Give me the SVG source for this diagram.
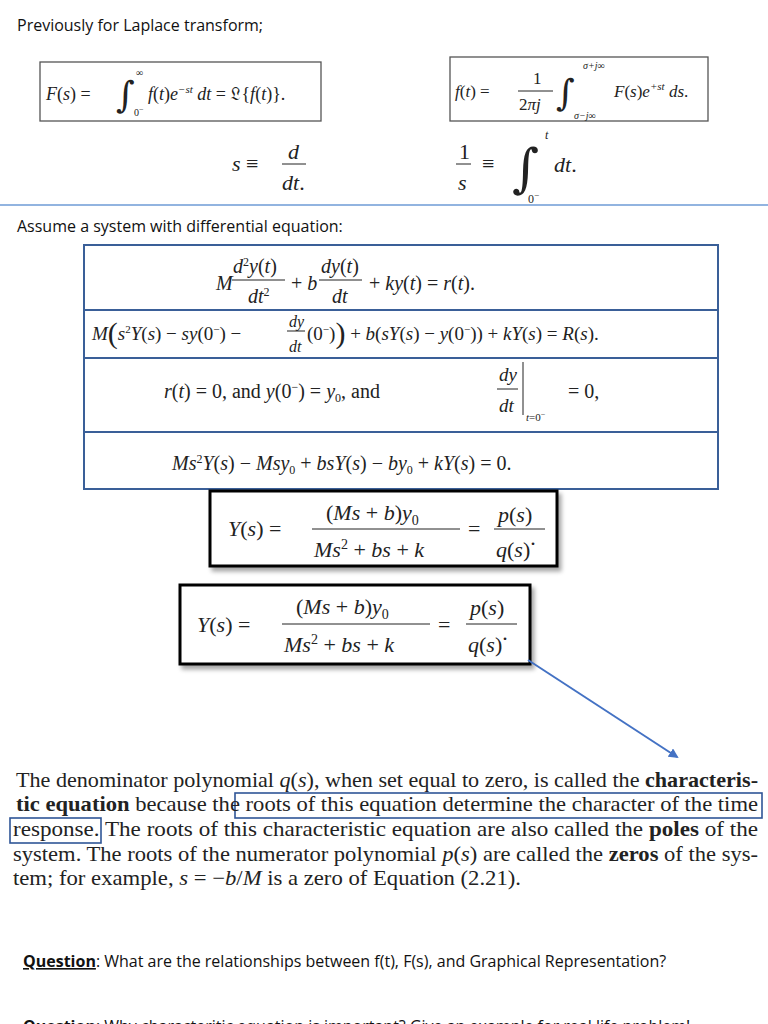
<svg xmlns="http://www.w3.org/2000/svg" width="768" height="1024" viewBox="0 0 768 1024" xml:space="preserve">
<style>
.it{font-family:"Liberation Serif","DejaVu Serif",serif;font-style:italic;fill:#222}
.r{font-family:"Liberation Serif","DejaVu Serif",serif;font-style:normal;fill:#222}
.i{font-family:"DejaVu Serif",serif;font-style:normal;fill:#222}
.c{font-family:"Open Sans","Liberation Sans",sans-serif;fill:#111}
.p{font-family:"Liberation Serif",serif;font-size:21px;fill:#222}
.bx{fill:none;stroke:#555;stroke-width:1.3}
.tb{fill:none;stroke:#3a5f98;stroke-width:2}
.bk{fill:#fff;stroke:#000;stroke-width:3}
.hl{fill:none;stroke:#2f5597;stroke-width:1.6}
.fl{stroke:#222;stroke-width:1}
</style>
<defs>
<filter id="sh" x="-5%" y="-5%" width="115%" height="125%"><feDropShadow dx="3" dy="4" stdDeviation="2" flood-color="#000" flood-opacity="0.35"/></filter>
<marker id="ah" markerWidth="10" markerHeight="10" refX="8" refY="5" orient="auto" markerUnits="userSpaceOnUse"><path d="M0,0 L10,5 L0,10 z" fill="#4472c4"/></marker>
</defs>
<rect width="768" height="1024" fill="#fff"/>
<text class="c" x="17" y="31" font-size="16">Previously for Laplace transform;</text>

<g id="laplace">
<rect class="bx" x="40" y="62" width="281" height="59"/>
<text class="r" x="46" y="100" font-size="18"><tspan class="it">F</tspan>(<tspan class="it">s</tspan>)  =</text>
<text class="i" x="116" y="107" font-size="36">∫</text>
<text class="r" x="136" y="76" font-size="10">∞</text>
<text class="r" x="134" y="116" font-size="10">0<tspan dy="-4" font-size="8">−</tspan></text>
<text class="r" x="148" y="100" font-size="18"><tspan class="it">f</tspan>(<tspan class="it">t</tspan>)<tspan class="it">e</tspan><tspan class="it" dy="-7" font-size="11">−st</tspan><tspan class="it" dy="7"> dt</tspan>  =  𝔏{<tspan class="it">f</tspan>(<tspan class="it">t</tspan>)}.</text>
</g>

<g id="inverse">
<rect class="bx" x="450" y="57" width="258" height="64"/>
<text class="r" x="455" y="97" font-size="17"><tspan class="it">f</tspan>(<tspan class="it">t</tspan>)  =</text>
<text class="r" x="533" y="84" font-size="17">1</text>
<line class="fl" x1="518" y1="91" x2="553" y2="91"/>
<text class="r" x="519" y="110" font-size="17">2<tspan class="it">πj</tspan></text>
<text class="i" x="556" y="105" font-size="36">∫</text>
<text class="it" x="583" y="69" font-size="10">σ+j∞</text>
<text class="it" x="574" y="119" font-size="10">σ−j∞</text>
<text class="r" x="614" y="97" font-size="17"><tspan class="it">F</tspan>(<tspan class="it">s</tspan>)<tspan class="it">e</tspan><tspan class="it" dy="-7" font-size="11">+st</tspan><tspan class="it" dy="7"> ds</tspan>.</text>
</g>

<g id="s-def">
<text class="r" x="232" y="171" font-size="22"><tspan class="it">s</tspan>  ≡</text>
<text class="it" x="288" y="159" font-size="22">d</text>
<line class="fl" x1="282" y1="164" x2="306" y2="164"/>
<text class="r" x="282" y="190" font-size="22"><tspan class="it">dt</tspan>.</text>
</g>
<g id="inv-s-def">
<text class="r" x="459" y="159" font-size="22">1</text>
<line class="fl" x1="456" y1="164" x2="471" y2="164"/>
<text class="it" x="458" y="190" font-size="22">s</text>
<text class="r" x="482" y="171" font-size="22">≡</text>
<text class="i" x="512" y="186" font-size="52">∫</text>
<text class="it" x="545" y="139" font-size="12">t</text>
<text class="r" x="528" y="203" font-size="12">0<tspan dy="-5" font-size="9">−</tspan></text>
<text class="r" x="554" y="172" font-size="22"><tspan class="it">dt</tspan>.</text>
</g>

<line x1="0" y1="205" x2="768" y2="205" stroke="#6e9bd6" stroke-width="1.5"/>
<text class="c" x="17" y="232" font-size="16">Assume a system with differential equation:</text>

<g id="equations-table">
<rect class="tb" x="84" y="245" width="634" height="244"/>
<line class="tb" x1="84" y1="310" x2="718" y2="310"/>
<line class="tb" x1="84" y1="358" x2="718" y2="358"/>
<line class="tb" x1="84" y1="432" x2="718" y2="432"/>
<text class="it" x="216" y="290" font-size="20">M</text>
<text class="r" x="233" y="273" font-size="20"><tspan class="it">d</tspan><tspan dy="-7" font-size="12">2</tspan><tspan class="it" dy="7">y</tspan>(<tspan class="it">t</tspan>)</text>
<line class="fl" x1="232" y1="280" x2="285" y2="280"/>
<text class="r" x="248" y="303" font-size="20"><tspan class="it">dt</tspan><tspan dy="-7" font-size="12">2</tspan></text>
<text class="r" x="291" y="290" font-size="20">+ <tspan class="it">b</tspan></text>
<text class="r" x="321" y="273" font-size="20"><tspan class="it">dy</tspan>(<tspan class="it">t</tspan>)</text>
<line class="fl" x1="319" y1="280" x2="362" y2="280"/>
<text class="it" x="332" y="303" font-size="20">dt</text>
<text class="r" x="369" y="290" font-size="20">+  <tspan class="it">ky</tspan>(<tspan class="it">t</tspan>)   =   <tspan class="it">r</tspan>(<tspan class="it">t</tspan>).</text>

<text class="r" x="92" y="340" font-size="19"><tspan class="it">M</tspan><tspan font-size="30" dy="3">(</tspan><tspan class="it" dy="-3">s</tspan><tspan dy="-7" font-size="11">2</tspan><tspan class="it" dy="7">Y</tspan>(<tspan class="it">s</tspan>)  −  <tspan class="it">sy</tspan>(0<tspan dy="-7" font-size="11">−</tspan><tspan dy="7">)  −</tspan></text>
<text class="it" x="289" y="327" font-size="16">dy</text>
<line class="fl" x1="287" y1="331" x2="305" y2="331"/>
<text class="it" x="289" y="352" font-size="16">dt</text>
<text class="r" x="307" y="340" font-size="19">(0<tspan dy="-7" font-size="11">−</tspan><tspan dy="7">)</tspan><tspan font-size="30" dy="3">)</tspan><tspan dy="-3">  +  </tspan><tspan class="it">b</tspan>(<tspan class="it">sY</tspan>(<tspan class="it">s</tspan>)  −  <tspan class="it">y</tspan>(0<tspan dy="-7" font-size="11">−</tspan><tspan dy="7">))  +  </tspan><tspan class="it">kY</tspan>(<tspan class="it">s</tspan>)  =  <tspan class="it">R</tspan>(<tspan class="it">s</tspan>).</text>

<text class="r" x="164" y="398" font-size="20"><tspan class="it">r</tspan>(<tspan class="it">t</tspan>)  =  0,    and    <tspan class="it">y</tspan>(0<tspan dy="-7" font-size="12">−</tspan><tspan dy="7">)  =  </tspan><tspan class="it">y</tspan><tspan dy="4" font-size="12">0</tspan><tspan dy="-4">,    and</tspan></text>
<text class="it" x="499" y="381" font-size="19">dy</text>
<line class="fl" x1="497" y1="389" x2="518" y2="389"/>
<text class="it" x="499" y="412" font-size="19">dt</text>
<line class="fl" x1="523" y1="362" x2="523" y2="415"/>
<text class="r" x="526" y="421" font-size="11"><tspan class="it">t</tspan>=0<tspan dy="-4" font-size="8">−</tspan></text>
<text class="r" x="568" y="398" font-size="20">= 0,</text>

<text class="r" x="172" y="470" font-size="20"><tspan class="it">Ms</tspan><tspan dy="-7" font-size="12">2</tspan><tspan class="it" dy="7">Y</tspan>(<tspan class="it">s</tspan>)  −  <tspan class="it">Msy</tspan><tspan dy="4" font-size="12">0</tspan><tspan dy="-4">  +  </tspan><tspan class="it">bsY</tspan>(<tspan class="it">s</tspan>)  −  <tspan class="it">by</tspan><tspan dy="4" font-size="12">0</tspan><tspan dy="-4">  +  </tspan><tspan class="it">kY</tspan>(<tspan class="it">s</tspan>)  =  0.</text>
</g>

<g id="Ys-box1">
<rect class="bk" x="210" y="491" width="347" height="75" filter="url(#sh)"/>
<text class="r" x="228" y="536" font-size="22"><tspan class="it">Y</tspan>(<tspan class="it">s</tspan>)  =</text>
<text class="r" x="326" y="520" font-size="22">(<tspan class="it">Ms</tspan> + <tspan class="it">b</tspan>)<tspan class="it">y</tspan><tspan dy="5" font-size="14">0</tspan></text>
<line class="fl" x1="312" y1="529" x2="460" y2="529"/>
<text class="r" x="314" y="557" font-size="22"><tspan class="it">Ms</tspan><tspan dy="-8" font-size="14">2</tspan><tspan dy="8"> + </tspan><tspan class="it">bs</tspan> + <tspan class="it">k</tspan></text>
<text class="r" x="468" y="536" font-size="22">=</text>
<text class="r" x="498" y="522" font-size="22"><tspan class="it">p</tspan>(<tspan class="it">s</tspan>)</text>
<line class="fl" x1="494" y1="529" x2="545" y2="529"/>
<text class="r" x="496" y="557" font-size="22"><tspan class="it">q</tspan>(<tspan class="it">s</tspan>)<tspan dy="-12">.</tspan></text>
</g>

<g id="Ys-box2">
<rect class="bk" x="180" y="585" width="350" height="79" filter="url(#sh)"/>
<text class="r" x="197" y="632" font-size="22"><tspan class="it">Y</tspan>(<tspan class="it">s</tspan>)  =</text>
<text class="r" x="296" y="614" font-size="22">(<tspan class="it">Ms</tspan> + <tspan class="it">b</tspan>)<tspan class="it">y</tspan><tspan dy="5" font-size="14">0</tspan></text>
<line class="fl" x1="282" y1="624" x2="430" y2="624"/>
<text class="r" x="284" y="652" font-size="22"><tspan class="it">Ms</tspan><tspan dy="-8" font-size="14">2</tspan><tspan dy="8"> + </tspan><tspan class="it">bs</tspan> + <tspan class="it">k</tspan></text>
<text class="r" x="438" y="632" font-size="22">=</text>
<text class="r" x="470" y="615" font-size="22"><tspan class="it">p</tspan>(<tspan class="it">s</tspan>)</text>
<line class="fl" x1="466" y1="624" x2="517" y2="624"/>
<text class="r" x="468" y="652" font-size="22"><tspan class="it">q</tspan>(<tspan class="it">s</tspan>)<tspan dy="-12">.</tspan></text>
</g>

<g id="connectors">
<line x1="528" y1="660" x2="677" y2="757" stroke="#4472c4" stroke-width="2" marker-end="url(#ah)"/>
</g>

<g id="paragraph">
<rect class="hl" x="235" y="793" width="527" height="25"/>
<rect class="hl" x="10" y="818" width="91" height="25"/>
<text class="p" x="16" y="787" textLength="742" lengthAdjust="spacingAndGlyphs">The denominator polynomial <tspan font-style="italic">q</tspan>(<tspan font-style="italic">s</tspan>), when set equal to zero, is called the <tspan font-weight="bold">characteris-</tspan></text>
<text class="p" x="16" y="811" textLength="742" lengthAdjust="spacingAndGlyphs"><tspan font-weight="bold">tic equation</tspan> because the  roots of this equation determine the character of the time</text>
<text class="p" x="13" y="836" textLength="745" lengthAdjust="spacingAndGlyphs">response.  The roots of this characteristic equation are also called the <tspan font-weight="bold">poles</tspan> of the</text>
<text class="p" x="13" y="861" textLength="745" lengthAdjust="spacingAndGlyphs">system. The roots of the numerator polynomial <tspan font-style="italic">p</tspan>(<tspan font-style="italic">s</tspan>) are called the <tspan font-weight="bold">zeros</tspan> of the sys-</text>
<text class="p" x="13" y="885" textLength="508" lengthAdjust="spacingAndGlyphs">tem; for example, <tspan font-style="italic">s</tspan> = −<tspan font-style="italic">b</tspan>/<tspan font-style="italic">M</tspan> is a zero of Equation (2.21).</text>
</g>

<text class="c" x="23" y="967" font-size="16"><tspan font-weight="bold" text-decoration="underline">Question</tspan>: What are the relationships between f(t), F(s), and Graphical Representation?</text>
<text class="c" x="23" y="1032" font-size="16"><tspan font-weight="bold" text-decoration="underline">Question</tspan>: Why characteritic equation is important? Give an example for real life problem!</text>
</svg>
